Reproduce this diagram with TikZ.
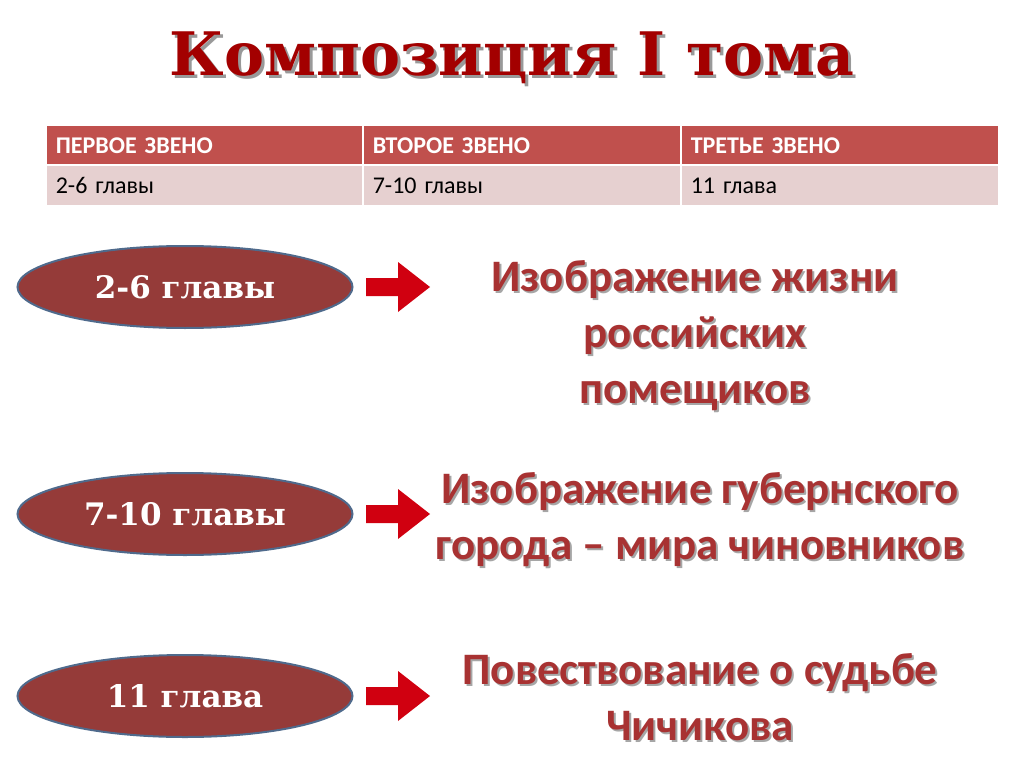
\documentclass[tikz,border=0pt]{standalone}
\usepackage{fontspec}
\setmainfont{DejaVu Serif}
\newfontfamily\calfnt{Carlito}
\usetikzlibrary{shapes.geometric}
\definecolor{hdr}{HTML}{C0504D}
\definecolor{rowc}{HTML}{E6D0D0}
\definecolor{ellf}{HTML}{953B39}
\definecolor{elld}{HTML}{4F6A8C}
\definecolor{txtr}{HTML}{A83232}
\definecolor{ttl}{HTML}{C00000}
\definecolor{arr}{HTML}{D00010}
\tikzset{
 hcell/.style={fill=hdr,draw=white,line width=1.5pt,minimum height=39pt,text width=#1,inner sep=10pt,anchor=north west,font=\calfnt\fontsize{24}{26}\selectfont\bfseries,text=white},
 rcell/.style={fill=rowc,draw=white,line width=1.5pt,minimum height=40pt,text width=#1,inner sep=10pt,anchor=north west,font=\calfnt\fontsize{24}{26}\selectfont,text=black},
 oval/.style={ellipse,fill=ellf,draw=elld,line width=2pt,minimum width=335pt,minimum height=82pt,font=\fontsize{31}{34}\selectfont\bfseries,text=white},
 desc/.style={align=center,font=\calfnt\fontsize{45}{56}\selectfont\bfseries,text=txtr},
 shd/.style={align=center,font=\calfnt\fontsize{45}{56}\selectfont\bfseries,text=black!35},
 bigarrow/.style={fill=arr,draw=none}
}
\begin{document}
\begin{tikzpicture}[x=1pt,y=-1pt]
\useasboundingbox (0,0) rectangle (1024,767);
\fill[white] (0,0) rectangle (1024,767);
\node[text=black!40,font=\fontsize{60}{66}\selectfont\bfseries] at (515,61) {Композиция I тома};
\node (title) [text=ttl!85!black,font=\fontsize{60}{66}\selectfont\bfseries] at (512,58) {Композиция I тома};
\node (h1) [hcell=298pt] at (45,125) {ПЕРВОЕ ЗВЕНО};
\node (h2) [hcell=298pt] at (362,125) {ВТОРОЕ ЗВЕНО};
\node (h3) [hcell=298pt] at (680,125) {ТРЕТЬЕ ЗВЕНО};
\node (r1) [rcell=298pt] at (45,165) {2-6 главы};
\node (r2) [rcell=298pt] at (362,165) {7-10 главы};
\node (r3) [rcell=298pt] at (680,165) {11 глава};
\foreach \n/\y/\t in {a/287/2-6 главы,b/514/7-10 главы,c/696/11 глава}{
 \node (o\n) [oval] at (185,\y) {\t};
 \fill[bigarrow] (366,\y-9) -- (398,\y-9) -- (398,\y-25) -- (430,\y) -- (398,\y+25) -- (398,\y+9) -- (366,\y+9) -- cycle;
}
\node[shd] at (697,338) {Изображение жизни\\российских\\помещиков};
\node (da) [desc] at (695,336) {Изображение жизни\\российских\\помещиков};
\node[shd] at (702,522) {Изображение губернского\\города – мира чиновников};
\node (db) [desc] at (700,520) {Изображение губернского\\города – мира чиновников};
\node[shd] at (702,699) {Повествование о судьбе\\Чичикова};
\node (dc) [desc] at (700,697) {Повествование о судьбе\\Чичикова};
\end{tikzpicture}
\end{document}
